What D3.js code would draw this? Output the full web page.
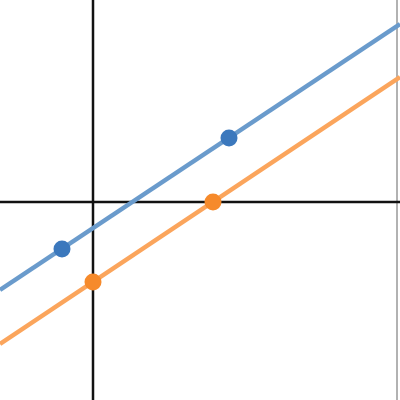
<!DOCTYPE html>
<html><head><meta charset="utf-8">
<script src="https://cdn.jsdelivr.net/npm/d3@7"></script>
<style>body{margin:0;background:#fff}svg{display:block}</style>
</head><body>
<svg width="400" height="400"></svg>
<script>
var blueLine = [[-2.325, -2.2], [7.675, 4.45]],
    bluePoints = [[-0.775, -1.175], [3.4, 1.6]],
    orangeLine = [[-2.325, -3.55], [7.675, 3.125]],
    orangePoints = [[0, -2], [3, 0]],
    boundaryX = 7.6;

var svg = d3.select('svg');
var x = d3.scaleLinear().domain([-2.325, 7.675]).range([0, 400]),
    y = d3.scaleLinear().domain([-4.95, 5.05]).range([400, 0]);

svg.append('line').attr('x1', x(boundaryX)).attr('x2', x(boundaryX))
    .attr('y1', 0).attr('y2', 400).attr('stroke', '#999').attr('stroke-width', 1.5);
svg.append('line').attr('x1', x(0)).attr('x2', x(0)).attr('y1', 0).attr('y2', 400)
    .attr('stroke', '#111').attr('stroke-width', 2.5);
svg.append('line').attr('x1', 0).attr('x2', 400).attr('y1', y(0)).attr('y2', y(0))
    .attr('stroke', '#111').attr('stroke-width', 2.5);

var line = d3.line().x(function (d) { return x(d[0]); }).y(function (d) { return y(d[1]); });

function series(lineData, pts, lc, pc) {
    svg.append('path').datum(lineData).attr('d', line).attr('fill', 'none')
        .attr('stroke', lc).attr('stroke-width', 4.5);
    svg.selectAll(null).data(pts).enter().append('circle')
        .attr('cx', function (d) { return x(d[0]); })
        .attr('cy', function (d) { return y(d[1]); })
        .attr('r', 8.5).attr('fill', pc);
}
series(blueLine, bluePoints, '#6a9bcc', '#3b78bd');
series(orangeLine, orangePoints, '#fba55c', '#f68a2b');
</script>
</body></html>
